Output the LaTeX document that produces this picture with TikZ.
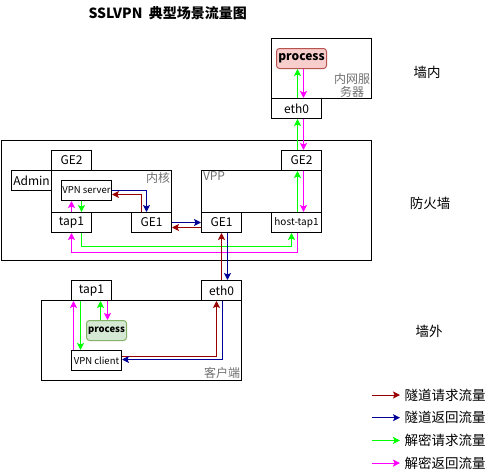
\documentclass[tikz,border=0pt]{standalone}
\usepackage{fontspec}
\setmainfont{Noto Sans CJK SC}
\usetikzlibrary{arrows.meta,positioning}
\definecolor{tunreq}{RGB}{153,0,0}
\definecolor{tunret}{RGB}{0,0,153}
\definecolor{decreq}{RGB}{0,255,0}
\definecolor{decret}{RGB}{255,0,255}
\definecolor{lblgray}{RGB}{112,112,112}
\definecolor{procred}{RGB}{248,206,204}
\definecolor{procredline}{RGB}{184,84,80}
\definecolor{procgreen}{RGB}{213,232,212}
\definecolor{procgreenline}{RGB}{130,179,102}

\begin{document}
\begin{tikzpicture}[x=1pt,y=-1pt,line width=1pt,
    box/.style={draw,inner sep=0pt,anchor=north west,minimum height=20,
      font=\fontsize{12}{14}\selectfont},
    proc/.style={box,rounded corners=3pt,font=\bfseries\fontsize{12}{14}\selectfont},
    lbl/.style={text=lblgray,inner sep=1.5pt,font=\fontsize{12}{13}\selectfont},
    zone/.style={font=\fontsize{13.5}{16}\selectfont},
    flow/.style={-{Stealth[length=7pt,width=7pt,inset=1.5pt]},line width=1pt}]
  \useasboundingbox (0,0) rectangle (499,474);
  \node[font=\bfseries\fontsize{14}{16}\selectfont,anchor=west,inner sep=0pt]
    (title) at (88,13) {SSLVPN\ \ 典型场景流量图};
  % containers
  \node[box,minimum width=100,minimum height=60] (srv) at (271,38) {};
  \node[box,minimum width=370,minimum height=120] (fw) at (1,140) {};
  \node[box,minimum width=120,minimum height=42] (kern) at (51,170) {};
  \node[box,minimum width=120,minimum height=42] (vpp) at (201,170) {};
  \node[box,minimum width=200,minimum height=80] (cli) at (41,300) {};
  \node[lbl,anchor=north east] (kernlbl) at (kern.north east) {内核};
  \node[lbl,anchor=north west] (vpplbl) at (vpp.north west) {VPP};
  \node[lbl,anchor=south east,align=center] (srvlbl) at (srv.south east) {内网服\\务器};
  \node[lbl,anchor=south east] (clilbl) at (cli.south east) {客户端};
  % ports
  \foreach \n/\x/\y/\w/\t in {eth0in/271/98/50/eth0,ge2k/51/150/40/GE2,
      admin/11/170/40/Admin,tap1k/51/212/40/tap1,ge1k/131/212/40/GE1,
      ge1v/201/212/40/GE1,ge2v/281/150/40/GE2,tap1c/71/280/40/tap1,
      eth0c/201/280/40/eth0}
    \node[box,minimum width=\w] (\n) at (\x,\y) {\t};
  \node[box,minimum width=50,font=\fontsize{10}{12}\selectfont] (htap) at (271,212) {host-tap1};
  \node[box,minimum width=50,font=\fontsize{9.5}{11}\selectfont] (vpns) at (61,180) {VPN server};
  \node[box,minimum width=50,font=\fontsize{9.5}{11}\selectfont] (vpnc) at (71,350) {VPN client};
  \node[proc,fill=procred,draw=procredline,minimum width=50] (proc) at (276,48) {process};
  \node[proc,fill=procgreen,draw=procgreenline,minimum width=40,
    font=\bfseries\fontsize{9.5}{11}\selectfont] (procc) at (86,320) {process};
  % zones
  \node[zone] (inz) at (427,72) {墙内};
  \node[zone] (fwz) at (430,203) {防火墙};
  \node[zone] (outz) at (429,331) {墙外};
  % decrypted flows
  \draw[flow,decreq] ([xshift=1]eth0in.north) -- ([xshift=1]eth0in.north |- proc.south);
  \draw[flow,decret] ([xshift=2]proc.south) -- ([xshift=2]proc.south |- eth0in.north);
  \draw[flow,decreq] ([xshift=-4]ge2v.north) -- ([xshift=-4]ge2v.north |- eth0in.south);
  \draw[flow,decret] ([xshift=2]ge2v.north |- eth0in.south) -- ([xshift=2]ge2v.north);
  \draw[flow,decreq] ([xshift=1]htap.north) -- ([xshift=1]htap.north |- ge2v.south);
  \draw[flow,decret] ([xshift=2]ge2v.south) -- ([xshift=2]ge2v.south |- htap.north);
  \draw[flow,decreq] ([xshift=10]tap1k.south) -- ++(0,13) -| ([xshift=-5]htap.south);
  \draw[flow,decret] ([xshift=1]htap.south) -- ++(0,19) -| (tap1k.south);
  \draw[flow,decret] (tap1k.north) -- (tap1k.north |- vpns.south);
  \draw[flow,decreq] ([xshift=-5]vpns.south) -- ([xshift=-5]vpns.south |- tap1k.north);
  \draw[flow,decret] ([xshift=-23]vpnc.north) -- ([xshift=-23]vpnc.north |- tap1c.south);
  \draw[flow,decreq] ([xshift=-11]tap1c.south) -- ([xshift=-11]tap1c.south |- vpnc.north);
  \draw[flow,decreq] ([xshift=-6]procc.north) -- ([xshift=-6]procc.north |- tap1c.south);
  \draw[flow,decret] ([xshift=1]procc.north |- tap1c.south) -- ([xshift=1]procc.north);
  % tunnel flows
  \draw[flow,tunreq] ([xshift=-10]ge1k.north) |- ([yshift=-4]vpns.east);
  \draw[flow,tunret] (vpns.east) -| ([xshift=-5]ge1k.north);
  \draw[flow,tunret] (ge1k.east) -- (ge1v.west);
  \draw[flow,tunreq] ([yshift=-5]ge1v.west) -- ([yshift=-5]ge1k.east);
  \draw[flow,tunreq] (eth0c.north) -- (ge1v.south);
  \draw[flow,tunret] ([xshift=6]ge1v.south) -- ([xshift=6]eth0c.north);
  \draw[flow,tunreq] ([yshift=4]vpnc.east) -| ([xshift=-5]eth0c.south);
  \draw[flow,tunret] ([xshift=1]eth0c.south) |- ([yshift=1]vpnc.east);
  % legend
  \foreach \c/\t [count=\i] in {tunreq/隧道请求流量,tunret/隧道返回流量,
      decreq/解密请求流量,decret/解密返回流量}
    {\coordinate (lg\i) at (372,{372.3+22.7*\i});
     \draw[flow,\c] (lg\i) -- ++(28,0) node[right,zone,text=black,inner sep=4pt] (lgt\i) {\t};}
\end{tikzpicture}
\end{document}
